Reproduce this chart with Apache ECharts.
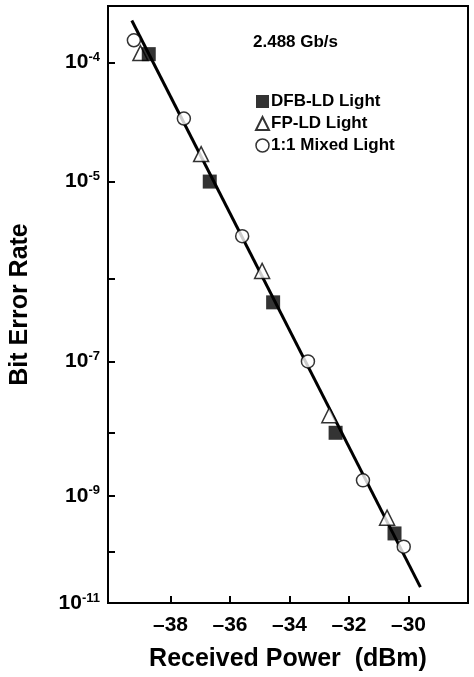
<!DOCTYPE html>
<html>
<head>
<meta charset="utf-8">
<script src="https://cdn.jsdelivr.net/npm/echarts@6/dist/echarts.min.js"></script>
<style>html,body{margin:0;padding:0;background:#fff}#main{width:474px;height:677px}</style>
</head>
<body>
<div id="main"></div>
<script>
// BER axis is drawn on a log10(-log10(BER)) scale, like the original plot
var dfbPower = [-38.73, -36.68, -34.55, -32.45, -30.47];
var dfbBer = [1.15e-4, 1.0e-5, 5.4e-7, 1.0e-8, 2.2e-10];
var fpPower = [-39.01, -36.97, -34.92, -32.66, -30.72];
var fpBer = [1.17e-4, 1.78e-5, 1.23e-6, 1.82e-8, 4.2e-10];
var mixPower = [-39.23, -37.55, -35.59, -33.38, -31.53, -30.16];
var mixBer = [1.45e-4, 3.6e-5, 2.9e-6, 1.0e-7, 1.8e-9, 1.26e-10];
var fitPower = [-39.3, -29.6];
var fitBer = [2.0e-4, 2.1e-11];
var labelExp = [4, 5, 7, 9, 11];
var tickExp = [4, 5, 6, 7, 8, 9, 10, 11];
var xTicks = [-38, -36, -34, -32, -30];

function tr(b) { return Math.log10(-Math.log10(b)); }
function pts(xs, ys) { return xs.map(function (x, i) { return [x, tr(ys[i])]; }); }
function ev(e) { return Math.log10(e); }

var chart = echarts.init(document.getElementById('main'));
var font = 'Liberation Sans';
chart.setOption({
  animation: false,
  grid: { left: 107, right: 6, top: 6, bottom: 74, show: true, borderColor: '#000', borderWidth: 2 },
  xAxis: {
    type: 'value', min: -40.1, max: -28,
    name: 'Received Power  (dBm)', nameLocation: 'middle', nameGap: 44,
    nameTextStyle: { fontFamily: font, fontWeight: 'bold', fontSize: 25, color: '#000' },
    axisLine: { lineStyle: { color: '#000', width: 2 } },
    axisTick: { inside: true, length: 7, lineStyle: { color: '#000', width: 2 }, customValues: xTicks },
    axisLabel: { customValues: xTicks, fontFamily: font, fontWeight: 'bold', fontSize: 21, color: '#000', margin: 12,
      formatter: function (v) { return '\u2013' + Math.abs(v); } },
    splitLine: { show: false }
  },
  yAxis: {
    type: 'value', min: ev(3.6), max: ev(11), inverse: true,
    name: 'Bit Error Rate', nameLocation: 'middle', nameGap: 75, nameRotate: 90,
    nameTextStyle: { fontFamily: font, fontWeight: 'bold', fontSize: 25, color: '#000' },
    axisLine: { lineStyle: { color: '#000', width: 2 } },
    axisTick: { inside: true, length: 7, lineStyle: { color: '#000', width: 2 }, customValues: tickExp.map(ev) },
    axisLabel: {
      customValues: labelExp.map(ev), color: '#000', margin: 8, showMaxLabel: true,
      formatter: function (v) { return '{b|10}{s|-' + Math.round(Math.pow(10, v)) + '}'; },
      rich: {
        b: { fontFamily: font, fontWeight: 'bold', fontSize: 21, color: '#000' },
        s: { fontFamily: font, fontWeight: 'bold', fontSize: 13, color: '#000', verticalAlign: 'top', padding: [0, 0, 10, 0] }
      }
    },
    splitLine: { show: false }
  },
  legend: {
    orient: 'vertical', left: 250, top: 88, itemGap: 5, itemWidth: 13, itemHeight: 13,
    textStyle: { fontFamily: font, fontWeight: 'bold', fontSize: 17, color: '#000', padding: [0, 0, 0, -3] },
    data: [
      { name: 'DFB-LD Light' },
      { name: 'FP-LD Light' },
      { name: '1:1 Mixed Light', itemStyle: { borderWidth: 1.5 } }
    ]
  },
  graphic: [{ type: 'text', left: 253, top: 34, style: { text: '2.488 Gb/s', font: 'bold 17px ' + font, fill: '#000' } }],
  series: [
    { type: 'line', data: pts(fitPower, fitBer), symbol: 'none', lineStyle: { color: '#000', width: 3 }, z: 1 },
    { name: 'DFB-LD Light', type: 'scatter', data: pts(dfbPower, dfbBer), symbol: 'rect', symbolSize: 14,
      itemStyle: { color: '#000' }, z: 3 },
    { name: 'FP-LD Light', type: 'scatter', data: pts(fpPower, fpBer), symbol: 'triangle', symbolSize: 15,
      itemStyle: { color: '#fff', borderColor: '#000', borderWidth: 1.5 }, z: 2 },
    { name: '1:1 Mixed Light', type: 'scatter', data: pts(mixPower, mixBer), symbol: 'circle', symbolSize: 13,
      itemStyle: { color: '#fff', borderColor: '#000', borderWidth: 1.5 }, z: 2 }
  ]
});
</script>
</body>
</html>
